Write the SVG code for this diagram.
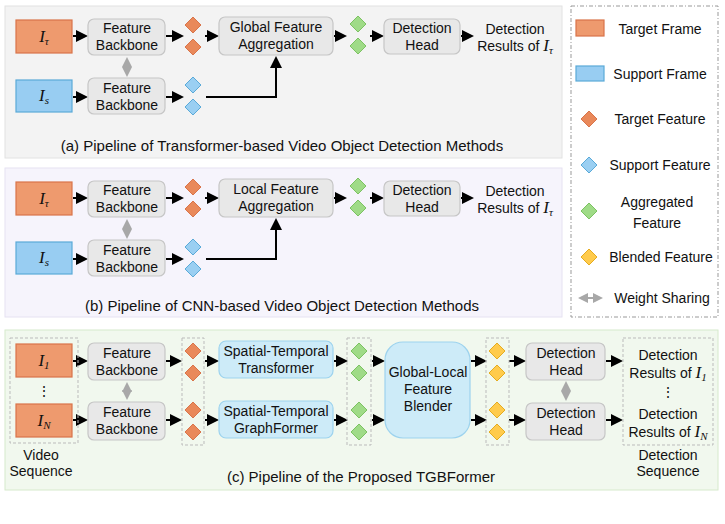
<svg xmlns="http://www.w3.org/2000/svg" width="725" height="524" viewBox="0 0 725 524">
<style>
text{font-family:"Liberation Sans",Arial,sans-serif;font-size:14px;fill:#111;text-anchor:middle}
.cap{font-size:15px}
.m{font-family:"Liberation Serif",serif;font-style:italic;font-size:17px}
.sub{font-size:11px}
.tf{fill:#EE9A6E;stroke:#D9744A;stroke-width:1.2}
.sf{fill:#98CDF2;stroke:#5AAAD8;stroke-width:1.2}
.bb{fill:#E8E8E8;stroke:#C6C6C6;stroke-width:1.2}
.st{fill:#CDEBF8;stroke:#9DD3EE;stroke-width:1.2}
.dt{fill:#E9895A;stroke:#D9744A}
.ds{fill:#9ACFF2;stroke:#5AAAD8}
.dg{fill:#9FDB87;stroke:#7CC262}
.dy{fill:#FFCB4C;stroke:#E5AC20}
.dash{fill:none;stroke:#BBB;stroke-dasharray:3 2}
.a{stroke:#000;stroke-width:2;fill:none;marker-end:url(#ah)}
.g{stroke:#A8A8A8;stroke-width:2;fill:none;marker-start:url(#gh);marker-end:url(#gh)}
</style>
<defs>
<marker id="ah" markerWidth="6" markerHeight="6" refX="5" refY="3" orient="auto" markerUnits="strokeWidth"><path d="M0,0L6,3L0,6z" fill="#000"/></marker>
<marker id="gh" markerWidth="5" markerHeight="5" refX="4" refY="2.5" orient="auto-start-reverse" markerUnits="strokeWidth"><path d="M0,0L5,2.5L0,5z" fill="#A8A8A8"/></marker>
<path id="dm" d="M0,-8L8,0L0,8L-8,0z"/>
</defs>
<rect x="5" y="6" width="557" height="152" fill="#F3F3F3" stroke="#E2E2E2"/>
<rect x="5" y="168" width="557" height="149" fill="#F6F4FC" stroke="#E6E2F2"/>
<rect x="5" y="330" width="713" height="160" fill="#F1F8EE" stroke="#D6EACC"/>
<rect x="571" y="6" width="147" height="311" fill="#fff" stroke="#999" stroke-dasharray="4 2 1 2"/>

<g id="connectors">
<path class="a" d="M73,36H86"/><path class="a" d="M166,36H182"/><path class="a" d="M205,36H217"/><path class="a" d="M334,36H345"/><path class="a" d="M370,36H382"/><path class="a" d="M461,36H472"/>
<path class="a" d="M73,97H86"/><path class="a" d="M166,97H182"/><path class="a" d="M206,97H276V58"/>
<path class="g" d="M127,59V75"/>
<path class="a" d="M73,198H86"/><path class="a" d="M166,198H182"/><path class="a" d="M205,198H217"/><path class="a" d="M334,198H345"/><path class="a" d="M370,198H382"/><path class="a" d="M461,198H472"/>
<path class="a" d="M73,259H86"/><path class="a" d="M166,259H182"/><path class="a" d="M206,259H276V220"/>
<path class="g" d="M127,221V237"/>
<path class="a" d="M73,361H86" stroke-dasharray="4 2"/><path class="a" d="M73,420H86" stroke-dasharray="4 2"/>
<path class="a" d="M166,361H180"/><path class="a" d="M166,420H180"/>
<path class="a" d="M205,361H217"/><path class="a" d="M205,420H217"/>
<path class="a" d="M334,361H346"/><path class="a" d="M334,420H346"/>
<path class="a" d="M372,361H383"/><path class="a" d="M372,420H383"/>
<path class="a" d="M471,361H485"/><path class="a" d="M471,420H485"/>
<path class="a" d="M509,361H524"/><path class="a" d="M509,420H524"/>
<path class="a" d="M606,361H621"/><path class="a" d="M606,420H621"/>
<path class="g" d="M127,384V398"/><path class="g" d="M566,383V399"/>
<path class="g" d="M580,298H601"/>
</g>

<g id="panel-a">
<g id="a-target"><rect class="tf" x="16" y="20" width="56" height="33"/><text class="m" x="44" y="42">I<tspan class="sub" dy="3">τ</tspan></text></g>
<g id="a-bb1"><rect class="bb" x="88" y="19" width="77" height="36" rx="6"/><text x="127" y="33">Feature</text><text x="127" y="50">Backbone</text></g>
<g id="a-support"><rect class="sf" x="16" y="80" width="56" height="32"/><text class="m" x="44" y="101">I<tspan class="sub" dy="3">s</tspan></text></g>
<g id="a-bb2"><rect class="bb" x="88" y="78" width="77" height="36" rx="6"/><text x="127" y="93">Feature</text><text x="127" y="110">Backbone</text></g>
<g id="a-feat"><use href="#dm" class="dt" x="193" y="25"/><use href="#dm" class="dt" x="193" y="47"/><use href="#dm" class="ds" x="193" y="85"/><use href="#dm" class="ds" x="193" y="107"/></g>
<g id="a-agg"><rect class="bb" x="219" y="17" width="114" height="38" rx="6"/><text x="276" y="32">Global Feature</text><text x="276" y="49">Aggregation</text></g>
<g id="a-agf"><use href="#dm" class="dg" x="358" y="24"/><use href="#dm" class="dg" x="358" y="46"/></g>
<g id="a-head"><rect class="bb" x="384" y="19" width="76" height="35" rx="6"/><text x="422" y="33">Detection</text><text x="422" y="50">Head</text></g>
<g id="a-res"><text x="515" y="34">Detection</text><text x="515" y="51">Results of <tspan class="m">I<tspan class="sub" dy="3">τ</tspan></tspan></text></g>
<text class="cap" x="282" y="151">(a) Pipeline of Transformer-based Video Object Detection Methods</text>
</g>

<g id="panel-b">
<g id="b-target"><rect class="tf" x="16" y="182" width="56" height="33"/><text class="m" x="44" y="204">I<tspan class="sub" dy="3">τ</tspan></text></g>
<g id="b-bb1"><rect class="bb" x="88" y="181" width="77" height="36" rx="6"/><text x="127" y="195">Feature</text><text x="127" y="212">Backbone</text></g>
<g id="b-support"><rect class="sf" x="16" y="242" width="56" height="32"/><text class="m" x="44" y="263">I<tspan class="sub" dy="3">s</tspan></text></g>
<g id="b-bb2"><rect class="bb" x="88" y="240" width="77" height="36" rx="6"/><text x="127" y="255">Feature</text><text x="127" y="272">Backbone</text></g>
<g id="b-feat"><use href="#dm" class="dt" x="193" y="187"/><use href="#dm" class="dt" x="193" y="209"/><use href="#dm" class="ds" x="193" y="247"/><use href="#dm" class="ds" x="193" y="269"/></g>
<g id="b-agg"><rect class="bb" x="219" y="179" width="114" height="38" rx="6"/><text x="276" y="194">Local Feature</text><text x="276" y="211">Aggregation</text></g>
<g id="b-agf"><use href="#dm" class="dg" x="358" y="186"/><use href="#dm" class="dg" x="358" y="208"/></g>
<g id="b-head"><rect class="bb" x="384" y="181" width="76" height="35" rx="6"/><text x="422" y="195">Detection</text><text x="422" y="212">Head</text></g>
<g id="b-res"><text x="515" y="196">Detection</text><text x="515" y="213">Results of <tspan class="m">I<tspan class="sub" dy="3">τ</tspan></tspan></text></g>
<text class="cap" x="282" y="311">(b) Pipeline of CNN-based Video Object Detection Methods</text>
</g>

<g id="panel-c">
<g id="c-frames"><rect class="dash" x="10" y="338" width="68" height="105"/>
<rect class="tf" x="16" y="344" width="56" height="33"/><text class="m" x="44" y="366">I<tspan class="sub" dy="3">1</tspan></text>
<text x="44" y="396">⋮</text>
<rect class="tf" x="16" y="404" width="56" height="33"/><text class="m" x="44" y="426">I<tspan class="sub" dy="3">N</tspan></text>
<text x="41" y="460">Video</text><text x="41" y="476">Sequence</text></g>
<g id="c-bb1"><rect class="bb" x="88" y="343" width="77" height="37" rx="6"/><text x="127" y="358">Feature</text><text x="127" y="375">Backbone</text></g>
<g id="c-bb2"><rect class="bb" x="88" y="402" width="77" height="38" rx="6"/><text x="127" y="417">Feature</text><text x="127" y="434">Backbone</text></g>
<g id="c-feat"><rect class="dash" x="182" y="338" width="22" height="107"/><use href="#dm" class="dt" x="193" y="351"/><use href="#dm" class="dt" x="193" y="373"/><use href="#dm" class="dt" x="193" y="410"/><use href="#dm" class="dt" x="193" y="432"/></g>
<g id="c-stt"><rect class="st" x="219" y="341" width="114" height="37" rx="7"/><text x="276" y="356">Spatial-Temporal</text><text x="276" y="373">Transformer</text></g>
<g id="c-stg"><rect class="st" x="219" y="401" width="114" height="37" rx="7"/><text x="276" y="416">Spatial-Temporal</text><text x="276" y="433">GraphFormer</text></g>
<g id="c-agf"><rect class="dash" x="347" y="338" width="24" height="107"/><use href="#dm" class="dg" x="359" y="351"/><use href="#dm" class="dg" x="359" y="373"/><use href="#dm" class="dg" x="359" y="410"/><use href="#dm" class="dg" x="359" y="432"/></g>
<g id="c-blender"><rect class="st" x="385" y="342" width="85" height="96" rx="18"/><text x="428" y="377">Global-Local</text><text x="428" y="394">Feature</text><text x="428" y="411">Blender</text></g>
<g id="c-blf"><rect class="dash" x="486" y="338" width="23" height="107"/><use href="#dm" class="dy" x="497" y="351"/><use href="#dm" class="dy" x="497" y="373"/><use href="#dm" class="dy" x="497" y="410"/><use href="#dm" class="dy" x="497" y="432"/></g>
<g id="c-head1"><rect class="bb" x="526" y="343" width="79" height="37" rx="6"/><text x="566" y="358">Detection</text><text x="566" y="375">Head</text></g>
<g id="c-head2"><rect class="bb" x="526" y="403" width="79" height="37" rx="6"/><text x="566" y="418">Detection</text><text x="566" y="435">Head</text></g>
<g id="c-res"><rect class="dash" x="623" y="338" width="90" height="107"/>
<text x="668" y="360">Detection</text><text x="668" y="378">Results of <tspan class="m">I<tspan class="sub" dy="3">1</tspan></tspan></text>
<text x="668" y="397">⋮</text>
<text x="668" y="419">Detection</text><text x="668" y="437">Results of <tspan class="m">I<tspan class="sub" dy="3">N</tspan></tspan></text>
<text x="668" y="460">Detection</text><text x="668" y="476">Sequence</text></g>
<text class="cap" x="361" y="482">(c) Pipeline of the Proposed TGBFormer</text>
</g>

<g id="legend">
<rect class="tf" x="576" y="20" width="28" height="16"/><text x="660" y="34">Target Frame</text>
<rect class="sf" x="576" y="66" width="28" height="15"/><text x="660" y="79">Support Frame</text>
<use href="#dm" class="dt" x="589" y="119"/><text x="660" y="124">Target Feature</text>
<use href="#dm" class="ds" x="589" y="165"/><text x="660" y="170">Support Feature</text>
<use href="#dm" class="dg" x="589" y="211"/><text x="657" y="207">Aggregated</text><text x="657" y="228">Feature</text>
<use href="#dm" class="dy" x="589" y="257"/><text x="661" y="262">Blended Feature</text>
<text x="662" y="303">Weight Sharing</text>
</g>
</svg>
